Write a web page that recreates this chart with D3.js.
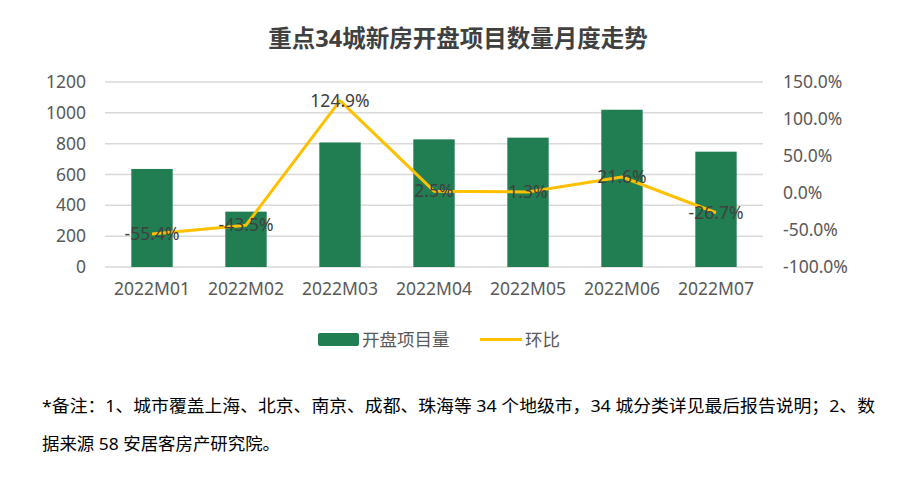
<!DOCTYPE html>
<html>
<head>
<meta charset="utf-8">
<script src="https://cdn.jsdelivr.net/npm/d3@7"></script>
<style>
  body { margin: 0; background: #fff; }
  text { font-family: "Noto Sans", "Noto Sans CJK SC", sans-serif; }
</style>
</head>
<body>
<script>
const months = ["2022M01", "2022M02", "2022M03", "2022M04", "2022M05", "2022M06", "2022M07"];
const projects = [636, 359, 808, 828, 839, 1020, 748];
const momPct = [-55.4, -43.5, 124.9, 2.5, 1.3, 21.6, -26.7];
const leftTicks = [0, 200, 400, 600, 800, 1000, 1200];
const rightTicks = [-100, -50, 0, 50, 100, 150];

const width = 898, height = 483;
const margin = { top: 82, bottom: 216, left: 105, right: 135 };
const innerW = width - margin.left - margin.right;
const innerH = height - margin.top - margin.bottom;

const svg = d3.select('body').append('svg')
    .attr('width', width)
    .attr('height', height);

svg.append('text')
   .attr('x', 458).attr('y', 47)
   .attr('text-anchor', 'middle')
   .attr('font-family', '"Noto Sans CJK SC", sans-serif')
   .attr('font-size', 23.5).attr('font-weight', 'bold')
   .attr('fill', '#404040')
   .text('重点34城新房开盘项目数量月度走势');

const g = svg.append('g').attr('transform', `translate(${margin.left},${margin.top})`);

const x = d3.scaleBand().domain(months).range([0, innerW]).paddingInner(0.56).paddingOuter(0.28);
const y = d3.scaleLinear().domain([0, 1200]).range([innerH, 0]);
const y2 = d3.scaleLinear().domain([-100, 150]).range([innerH, 0]);

// gridlines
g.selectAll('.grid').data(leftTicks).enter().append('line')
  .attr('x1', 0).attr('x2', innerW)
  .attr('y1', d => y(d)).attr('y2', d => y(d))
  .attr('stroke', '#d9d9d9').attr('stroke-width', 1.5);

// left axis
const yAxis = g.append('g').call(d3.axisLeft(y).tickValues(leftTicks).tickSize(0).tickPadding(19).tickFormat(d3.format('d')));
yAxis.select('.domain').remove();
yAxis.selectAll('text').attr('font-size', 17.5).attr('fill', '#595959');

// right axis
const y2Axis = g.append('g').attr('transform', `translate(${innerW},0)`)
  .call(d3.axisRight(y2).tickValues(rightTicks).tickSize(0).tickPadding(20).tickFormat(d => d.toFixed(1) + '%'));
y2Axis.select('.domain').remove();
y2Axis.selectAll('text').attr('font-size', 17.5).attr('fill', '#595959');

// x axis
const xAxis = g.append('g').attr('transform', `translate(0,${innerH})`)
  .call(d3.axisBottom(x).tickSize(0).tickPadding(16));
xAxis.select('.domain').remove();
xAxis.selectAll('text').attr('font-size', 17.5).attr('fill', '#595959');

// bars
g.selectAll('rect.bar').data(projects).enter().append('rect')
  .attr('class', 'bar')
  .attr('x', (d, i) => x(months[i]))
  .attr('width', x.bandwidth())
  .attr('y', d => y(d))
  .attr('height', d => innerH - y(d))
  .attr('fill', '#217d52');

// line
const line = d3.line()
  .x((d, i) => x(months[i]) + x.bandwidth() / 2)
  .y(d => y2(d));
g.append('path').datum(momPct)
  .attr('d', line)
  .attr('fill', 'none')
  .attr('stroke', '#ffc000')
  .attr('stroke-width', 3)
  .attr('stroke-linejoin', 'round');

// labels
g.selectAll('text.lbl').data(momPct).enter().append('text')
  .attr('class', 'lbl')
  .attr('x', (d, i) => x(months[i]) + x.bandwidth() / 2)
  .attr('y', d => y2(d))
  .attr('dy', '0.35em')
  .attr('text-anchor', 'middle')
  .attr('font-size', 17.5)
  .attr('fill', '#404040')
  .text(d => d.toFixed(1) + '%');

// legend
const lg = svg.append('g');
lg.append('rect').attr('x', 318).attr('y', 333).attr('width', 41).attr('height', 13).attr('rx', 2).attr('fill', '#217d52');
lg.append('text').attr('x', 362).attr('y', 346).attr('font-size', 17.5).attr('fill', '#595959').text('开盘项目量');
lg.append('line').attr('x1', 480).attr('x2', 522).attr('y1', 339.5).attr('y2', 339.5).attr('stroke', '#ffc000').attr('stroke-width', 3);
lg.append('text').attr('x', 525).attr('y', 346).attr('font-size', 17.5).attr('fill', '#595959').text('环比');

// footnote
svg.append('text').attr('x', 42).attr('y', 412).attr('font-size', 17).attr('fill', '#000')
  .attr('textLength', 833).attr('lengthAdjust', 'spacingAndGlyphs')
  .text('*备注：1、城市覆盖上海、北京、南京、成都、珠海等 34 个地级市，34 城分类详见最后报告说明；2、数');
svg.append('text').attr('x', 42).attr('y', 450).attr('font-size', 17).attr('fill', '#000')
  .attr('textLength', 238).attr('lengthAdjust', 'spacingAndGlyphs')
  .text('据来源 58 安居客房产研究院。');
</script>
</body>
</html>
